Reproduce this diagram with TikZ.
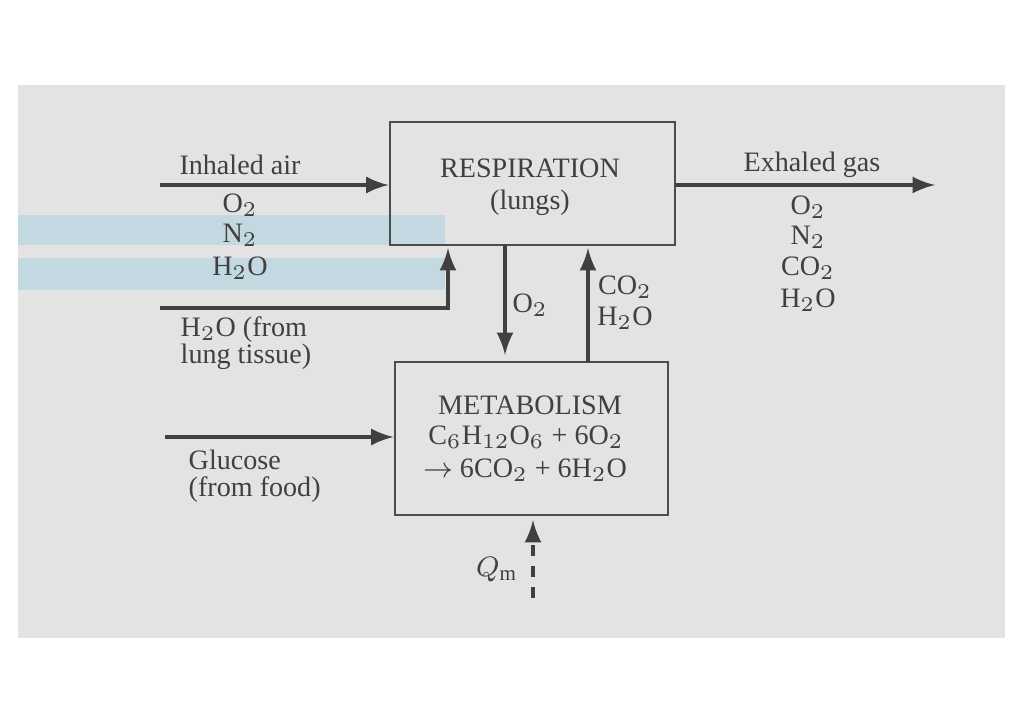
\documentclass[tikz,border=0pt]{standalone}
\usepackage{fontspec}
\setmainfont{Liberation Serif}
\tikzstyle{block} = [rectangle, draw=black!70, thick]
\tikzstyle{lbl} = [font=\fontsize{8}{9}\selectfont, text=black!75, inner sep=0pt]
\tikzstyle{flow} = [->, >=latex, very thick, black!75]
\begin{document}
\begin{tikzpicture}[x=0.1mm, y=-0.1mm]
    \useasboundingbox (0,0) rectangle (1024,724);
    \fill[gray!22] (18,85) rectangle (1005,638);
    \fill[cyan!35!gray!40] (18,215) rectangle (445,245);
    \fill[cyan!35!gray!40] (18,258) rectangle (445,290);
	\node (Resp) at (532.5,183.5) [block, minimum width=28.5mm, minimum height=12.3mm] {};
	\node (Meta) at (531.5,438.5) [block, minimum width=27.3mm, minimum height=15.3mm] {};
	\node (RespT) at (530,168) [lbl] {RESPIRATION};
	\node (Lungs) at (530,203) [lbl] {(lungs)};
	\node (MetaT) at (530,405) [lbl] {METABOLISM};
	\node (Eq1) at (526,437) [lbl] {C$_6$H$_{12}$O$_6$ + 6O$_2$};
	\node (Eq2) at (525,470) [lbl] {$\rightarrow$ 6CO$_2$ + 6H$_2$O};
	\node (Inh) at (240,165) [lbl] {Inhaled air};
	\node (InO) at (240,205) [lbl] {O$_2$};
	\node (InN) at (240,235) [lbl] {N$_2$};
	\node (InH) at (240,268) [lbl] {H$_2$O};
	\node (Tis1) [lbl, anchor=west] at (180,330) {H$_2$O (from};
	\node (Tis2) [lbl, anchor=west] at (180,357) {lung tissue)};
	\node (Exh) at (812,165) [lbl] {Exhaled gas};
	\node (ExO) at (808,207) [lbl] {O$_2$};
	\node (ExN) at (808,237) [lbl] {N$_2$};
	\node (ExC) at (808,268) [lbl] {CO$_2$};
	\node (ExH) at (808,300) [lbl] {H$_2$O};
	\node (DnO) at (530,305) [lbl] {O$_2$};
	\node (UpC) at (625,287) [lbl] {CO$_2$};
	\node (UpH) at (625,318) [lbl] {H$_2$O};
	\node (Glu1) [lbl, anchor=west] at (188,460) {Glucose};
	\node (Glu2) [lbl, anchor=west] at (188,490) {(from food)};
	\node (Qm) at (497,570) [lbl] {$Q_\mathrm{m}$};
	\coordinate (InStart) at (160,185);
	\coordinate (ExEnd) at (935,185);
	\coordinate (TisStart) at (160,308);
	\coordinate (GluStart) at (165,437);
	\coordinate (QmStart) at (533,598);
	\draw [flow] (InStart) -- (Resp.west |- InStart);
	\draw [flow] (Resp.east |- ExEnd) -- (ExEnd);
	\draw [flow] (TisStart) -- (448,308) -- (448,248);
	\draw [flow] (505,245) -- (505,355);
	\draw [flow] (588,362) -- (588,248);
	\draw [flow] (GluStart) -- (Meta.west |- GluStart);
	\draw [flow, dashed] (QmStart) -- (533,520);
\end{tikzpicture}
\end{document}
